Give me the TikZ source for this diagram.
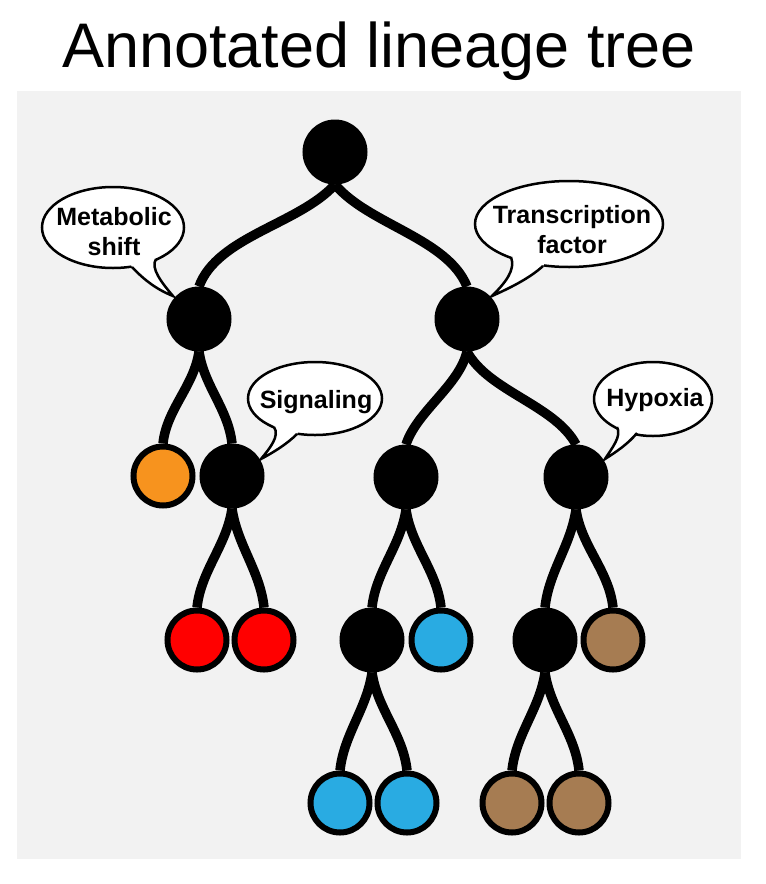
\documentclass[tikz,border=0pt]{standalone}
\usepackage{fontspec}
\setmainfont{Liberation Sans}
\usepackage{tikz}
\usetikzlibrary{shapes.geometric}
\definecolor{panelgray}{HTML}{F2F2F2}
\definecolor{cellorange}{HTML}{F7931E}
\definecolor{cellred}{HTML}{FF0000}
\definecolor{cellblue}{HTML}{29ABE2}
\definecolor{cellbrown}{HTML}{A67C52}
\tikzset{
  cell/.style={circle, draw=black, line width=6pt, minimum size=59pt, inner sep=0pt},
  inner cell/.style={cell, fill=black},
  branch/.style={line width=9.5pt, black},
  to left/.style={out=-98, in=84, looseness=0.9},
  to right/.style={out=-82, in=96, looseness=0.9},
  bubble/.style={ellipse, draw=black, fill=white, line width=2.5pt, inner sep=0pt},
  bubbletext/.style={align=center, inner sep=0pt, font=\fontsize{25}{30}\selectfont\bfseries},
  bubbleline/.style={line width=2.5pt, black, line join=miter}
}
\newcommand{\bubbletail}[2]{
  \fill[white] #2 -- (#1.center) -- cycle;
  \draw[bubbleline] #2;
}

\begin{document}
\begin{tikzpicture}[x=1pt, y=-1pt]
\useasboundingbox (0,0) rectangle (766,884);
\fill[panelgray] (17,91) rectangle (741,859);
\node[anchor=base, inner sep=0pt, font=\fontsize{63}{63}\selectfont] (title) at (379,67) {Annotated lineage tree};

% tree
\node[inner cell] (root) at (335,152) {};
\node[inner cell] (left) at (199,319) {};
\node[inner cell] (right) at (467,319) {};
\node[cell, fill=cellorange] (orange) at (163,476) {};
\node[inner cell] (signal) at (232,476) {};
\node[inner cell] (mid) at (406,477) {};
\node[inner cell] (hyp) at (576,477) {};
\node[cell, fill=cellred] (red1) at (197,640) {};
\node[cell, fill=cellred] (red2) at (264,640) {};
\node[inner cell] (midL) at (372,640) {};
\node[cell, fill=cellblue] (blue1) at (441,640) {};
\node[inner cell] (hypL) at (545,640) {};
\node[cell, fill=cellbrown] (brown1) at (613,640) {};
\node[cell, fill=cellblue] (blue2) at (340,803) {};
\node[cell, fill=cellblue] (blue3) at (407,803) {};
\node[cell, fill=cellbrown] (brown2) at (512,803) {};
\node[cell, fill=cellbrown] (brown3) at (579,803) {};

\path[branch]
(root.south) edge [out=-132, in=70, looseness=0.8] (left.north)
(root.south) edge [out=-50, in=112, looseness=0.8] (right.north)
(left.south) edge [to left] (orange.north)
(left.south) edge [to right] (signal.north)
(right.south) edge [out=-103, in=72, looseness=0.8] (mid.north)
(right.south) edge [out=-62, in=118, looseness=0.8] (hyp.north)
(signal.south) edge [to left] (red1.north)
(signal.south) edge [to right] (red2.north)
(mid.south) edge [to left] (midL.north)
(mid.south) edge [to right] (blue1.north)
(hyp.south) edge [to left] (hypL.north)
(hyp.south) edge [to right] (brown1.north)
(midL.south) edge [to left] (blue2.north)
(midL.south) edge [to right] (blue3.north)
(hypL.south) edge [to left] (brown2.north)
(hypL.south) edge [to right] (brown3.north);

% speech bubbles
\node[bubble, minimum width=142pt, minimum height=81pt] (metabolic) at (113,227.5) {};
\bubbletail{metabolic}{(132,267) .. controls (145,281) and (158,290) .. (173,296) .. controls (162,283) and (150,268) .. (156,259)}
\node[bubbletext] (metabolictext) at (114,232) {Metabolic\\shift};

\node[bubble, minimum width=188pt, minimum height=86pt] (factor) at (569,224) {};
\bubbletail{factor}{(543,266) .. controls (530,278) and (510,288) .. (492,296) .. controls (505,283) and (516,270) .. (511,257)}
\node[bubbletext] (factortext) at (572,230) {Transcription\\factor};

\node[bubble, minimum width=134pt, minimum height=73pt] (signaling) at (315,398.5) {};
\bubbletail{signaling}{(297,434) .. controls (287,444) and (274,452) .. (261,459) .. controls (270,448) and (280,436) .. (274,427)}
\node[bubbletext] (signalingtext) at (316,402) {Signaling};

\node[bubble, minimum width=118pt, minimum height=74pt] (hypoxia) at (653,399) {};
\bubbletail{hypoxia}{(637,433) .. controls (628,444) and (616,452) .. (605,459) .. controls (612,448) and (622,436) .. (617,427)}
\node[bubbletext] (hypoxiatext) at (655,400) {Hypoxia};
\end{tikzpicture}
\end{document}
